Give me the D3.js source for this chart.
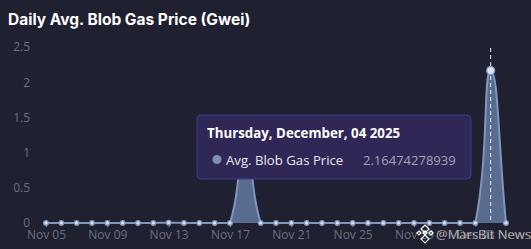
<!DOCTYPE html>
<html><head><meta charset="utf-8">
<script src="https://cdn.jsdelivr.net/npm/d3@7"></script>
<style>
html,body{margin:0;padding:0;background:#1f2030;}
svg{display:block;font-family:"Open Sans","Noto Sans",sans-serif;}
</style></head>
<body>
<script>
const dates = ["2025-11-05","2025-11-06","2025-11-07","2025-11-08","2025-11-09","2025-11-10","2025-11-11","2025-11-12","2025-11-13","2025-11-14","2025-11-15","2025-11-16","2025-11-17","2025-11-18","2025-11-19","2025-11-20","2025-11-21","2025-11-22","2025-11-23","2025-11-24","2025-11-25","2025-11-26","2025-11-27","2025-11-28","2025-11-29","2025-11-30","2025-12-01","2025-12-02","2025-12-03","2025-12-04","2025-12-05"];
const values = [0.001,0.001,0.001,0.001,0.001,0.001,0.001,0.001,0.005,0.001,0.001,0.001,0.001,1.4,0.001,0.001,0.001,0.001,0.001,0.001,0.001,0.001,0.001,0.001,0.001,0.001,0.001,0.001,0.001,2.16474278939,0.001];
const yTicks = [0,0.5,1,1.5,2,2.5];
const xTickLabels = ["Nov 05","Nov 09","Nov 13","Nov 17","Nov 21","Nov 25","Nov 29","Dec 03"];
const title = "Daily Avg. Blob Gas Price (Gwei)";
const seriesName = "Avg. Blob Gas Price";
const tooltipTitle = "Thursday, December, 04 2025";
const tooltipValue = "2.16474278939";
const highlightIndex = 29;

const W=531,H=249;
const parse = d3.timeParse("%Y-%m-%d");
const data = dates.map((d,i)=>({d:parse(d),v:values[i]}));
const svg = d3.select("body").append("svg").attr("width",W).attr("height",H);
svg.append("rect").attr("width",W).attr("height",H).attr("fill","#1f2030");

const x = d3.scaleTime().domain([data[0].d,data[data.length-1].d]).range([46,506]);
const y = d3.scaleLinear().domain([0,2.5]).range([223,47]);

// ECharts-like smooth bezier (smooth 0.5, constrained to bbox of points)
function smoothPath(pts, closeY){
  const s=0.5;
  const minY=d3.min(pts,p=>p[1]), maxY=d3.max(pts,p=>p[1]);
  const minX=d3.min(pts,p=>p[0]), maxX=d3.max(pts,p=>p[0]);
  const cps = pts.map((p,i)=>{
    const prev = pts[i-1]||p, next = pts[i+1]||p;
    const vx = next[0]-prev[0], vy = next[1]-prev[1];
    let d0 = Math.hypot(p[0]-prev[0],p[1]-prev[1]);
    let d1 = Math.hypot(p[0]-next[0],p[1]-next[1]);
    const sum=d0+d1; if(sum){d0/=sum;d1/=sum;}
    const clampY=v=>Math.max(minY,Math.min(maxY,v));
    const clampX=v=>Math.max(minX,Math.min(maxX,v));
    return {
      c0:[clampX(p[0]-vx*s*d0), clampY(p[1]-vy*s*d0)],
      c1:[clampX(p[0]+vx*s*d1), clampY(p[1]+vy*s*d1)]
    };
  });
  const path = d3.path();
  path.moveTo(pts[0][0],pts[0][1]);
  for(let i=0;i<pts.length-1;i++){
    const a=cps[i].c1, b=cps[i+1].c0, e=pts[i+1];
    path.bezierCurveTo(a[0],a[1],b[0],b[1],e[0],e[1]);
  }
  if(closeY!==undefined){
    path.lineTo(pts[pts.length-1][0],closeY);
    path.lineTo(pts[0][0],closeY);
    path.closePath();
  }
  return path.toString();
}

svg.append("text").attr("x",8).attr("y",25).attr("fill","#ffffff")
  .attr("font-size",15.5).attr("font-weight","bold").attr("font-family","Inter, 'Open Sans', sans-serif").text(title);

// y axis labels
const yAxis = svg.append("g").attr("transform","translate(30,0)")
  .call(d3.axisLeft(y).tickValues(yTicks).tickSize(0).tickPadding(0).tickFormat(d3.format("~g")));
yAxis.select(".domain").remove();
yAxis.selectAll("text").attr("fill","#6c7083").attr("font-size",12).attr("font-family","'Open Sans', sans-serif");

// x axis
const xTickDates = xTickLabels.map(s=>d3.timeParse("%b %d %Y")(s+" 2025"));
const xAxis = svg.append("g").attr("transform","translate(0,223)")
  .call(d3.axisBottom(x).tickValues(xTickDates).tickSize(4).tickPadding(3).tickFormat(d3.timeFormat("%b %d")));
xAxis.select(".domain").remove();
xAxis.selectAll("line").attr("stroke","#7b90b5");
xAxis.selectAll("text").attr("fill","#6c7083").attr("font-size",12).attr("font-family","'Open Sans', sans-serif");

// area + line
const pts = data.map(d=>[x(d.d),y(d.v)]);
svg.append("path").attr("d",smoothPath(pts,y(0))).attr("fill","#647aa0").attr("fill-opacity",0.85);
svg.append("path").attr("d",smoothPath(pts)).attr("fill","none").attr("stroke","#7f96bd").attr("stroke-width",2);

// axis pointer
const hx = x(data[highlightIndex].d);
svg.append("line").attr("x1",hx).attr("x2",hx).attr("y1",48).attr("y2",223)
  .attr("stroke","#e8ecf4").attr("stroke-width",1).attr("stroke-dasharray","4,3");

// points
svg.selectAll("circle.pt").data(data).enter().append("circle").attr("class","pt")
  .attr("cx",d=>x(d.d)).attr("cy",d=>y(d.v)).attr("r",(d,i)=>i===highlightIndex?4:2.3)
  .attr("fill","#dde4ef").attr("stroke","#7f96bd").attr("stroke-width",1.3);

// tooltip
const tt = svg.append("g").attr("transform","translate(197,115)");
tt.append("rect").attr("width",274).attr("height",64).attr("rx",4)
  .attr("fill","#2f2857").attr("stroke","#43398a").attr("stroke-width",1);
tt.append("text").attr("x",10).attr("y",23).attr("fill","#ffffff").attr("font-size",13.3)
  .attr("font-weight","bold").attr("font-family","'Open Sans', sans-serif").text(tooltipTitle);
tt.append("circle").attr("cx",20).attr("cy",44.5).attr("r",4.5).attr("fill","#7f8fb3");
tt.append("text").attr("x",29).attr("y",49.5).attr("fill","#e6e6ee").attr("font-size",13.2)
  .attr("font-family","'Open Sans', sans-serif").text(seriesName);
tt.append("text").attr("x",166).attr("y",49.5).attr("fill","#a3a3b3").attr("font-size",13)
  .attr("font-family","'Open Sans', sans-serif").text(tooltipValue);

// watermark
const wm = svg.append("g").attr("transform","translate(419,234)");
wm.append("path").attr("d","M6,-6 L10,-2 L6,2 L2,-2 Z M6,0 L8,2 L6,4 L4,2 Z M0,0 L2,2 L0,4 L-2,2 Z M12,0 L14,2 L12,4 L10,2 Z M6,4 L10,8 L6,12 L2,8 Z")
  .attr("transform","translate(0,-3)").attr("fill","none").attr("stroke","#ffffff").attr("stroke-width",1.2);
wm.append("text").attr("x",17).attr("y",5).attr("fill","#ffffff").attr("font-size",13)
  .attr("font-family","'Open Sans', sans-serif")
  .attr("stroke","#1f2030").attr("stroke-width",0.3).text("@MarsBit News");
</script>
</body></html>
